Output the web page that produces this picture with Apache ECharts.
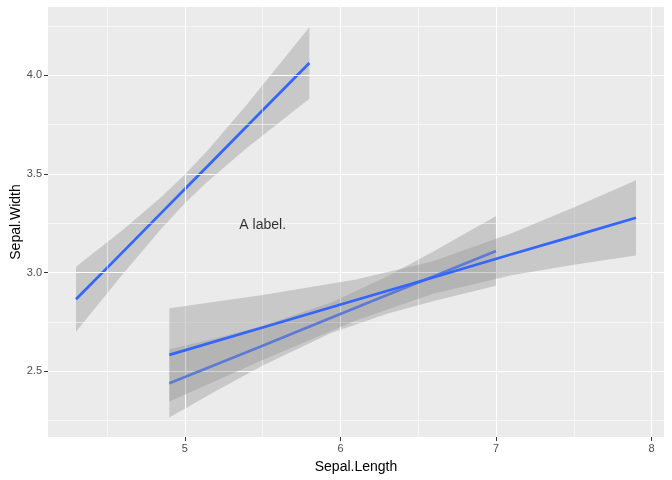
<!DOCTYPE html>
<html>
<head>
<meta charset="utf-8">
<script src="https://cdn.jsdelivr.net/npm/echarts@6/dist/echarts.min.js"></script>
<style>
  html, body { margin: 0; padding: 0; background: #fff; }
  #main { width: 672px; height: 480px; }
</style>
</head>
<body>
<div id="main"></div>
<script>
// smooth lines with confidence bands, one per species
var setosaX = [4.3, 4.6, 4.85, 5.0, 5.15, 5.4, 5.8];
var setosaFit = [2.865, 3.104, 3.304, 3.424, 3.543, 3.743, 4.062];
var setosaLo = [2.700, 2.992, 3.224, 3.351, 3.464, 3.633, 3.881];
var setosaHi = [3.030, 3.216, 3.384, 3.497, 3.622, 3.853, 4.243];

var versiX = [4.9, 5.2, 5.5, 5.94, 6.3, 6.6, 7.0];
var versiFit = [2.439, 2.534, 2.630, 2.771, 2.886, 2.982, 3.110];
var versiLo = [2.266, 2.400, 2.529, 2.694, 2.792, 2.856, 2.933];
var versiHi = [2.612, 2.668, 2.731, 2.848, 2.980, 3.108, 3.287];

var virgX = [4.9, 5.5, 6.1, 6.59, 7.1, 7.5, 7.9];
var virgFit = [2.583, 2.722, 2.861, 2.974, 3.093, 3.185, 3.278];
var virgLo = [2.347, 2.557, 2.757, 2.892, 2.987, 3.040, 3.087];
var virgHi = [2.819, 2.887, 2.965, 3.056, 3.199, 3.330, 3.468];

var xTicks = [5, 6, 7, 8];
var xMinor = [4.5, 5.5, 6.5, 7.5];
var yTicks = [2.5, 3.0, 3.5, 4.0];
var yMinor = [2.25, 2.75, 3.25, 3.75, 4.25];

var labelText = 'A label.';
var labelPos = [5.5, 3.24];

var font = 'Liberation Sans, Arial, sans-serif';

function band(xs, lo, hi, z) {
  return {
    type: 'custom',
    z: z,
    silent: true,
    data: [[xs[0], lo[0]]],
    renderItem: function (params, api) {
      var pts = [];
      for (var i = 0; i < xs.length; i++) pts.push(api.coord([xs[i], hi[i]]));
      for (var j = xs.length - 1; j >= 0; j--) pts.push(api.coord([xs[j], lo[j]]));
      return {
        type: 'polygon',
        shape: { points: pts },
        style: { fill: 'rgba(153,153,153,0.42)' }
      };
    }
  };
}

function fitLine(xs, fit, z) {
  return {
    type: 'line',
    z: z,
    silent: true,
    showSymbol: false,
    data: xs.map(function (x, i) { return [x, fit[i]]; }),
    lineStyle: { color: '#3366FF', width: 2.7 }
  };
}

var gridLines = [];
xTicks.forEach(function (v) { gridLines.push({ xAxis: v, lineStyle: { width: 1.1 } }); });
xMinor.forEach(function (v) { gridLines.push({ xAxis: v, lineStyle: { width: 0.55 } }); });
yTicks.forEach(function (v) { gridLines.push({ yAxis: v, lineStyle: { width: 1.1 } }); });
yMinor.forEach(function (v) { gridLines.push({ yAxis: v, lineStyle: { width: 0.55 } }); });

var chart = echarts.init(document.getElementById('main'));
chart.setOption({
  animation: false,
  backgroundColor: '#fff',
  textStyle: { fontFamily: font },
  grid: {
    left: 48, right: 8, top: 7, bottom: 43,
    outerBoundsMode: 'none',
    containLabel: false,
    show: true, backgroundColor: '#EBEBEB', borderWidth: 0
  },
  xAxis: {
    type: 'value',
    min: 4.12, max: 8.08,
    name: 'Sepal.Length',
    nameLocation: 'middle',
    nameGap: 23,
    nameMoveOverlap: false,
    nameTextStyle: { color: '#000', fontSize: 14, fontFamily: font },
    axisLine: { show: false },
    axisTick: { show: true, length: 4, customValues: xTicks, lineStyle: { color: '#333' } },
    axisLabel: { customValues: xTicks, margin: 6, color: '#4D4D4D', fontSize: 11, fontFamily: font },
    splitLine: { show: false }
  },
  yAxis: {
    type: 'value',
    min: 2.167, max: 4.346,
    name: 'Sepal.Width',
    nameLocation: 'middle',
    nameGap: 25,
    nameMoveOverlap: false,
    nameTextStyle: { color: '#000', fontSize: 14, fontFamily: font },
    axisLine: { show: false },
    axisTick: { show: true, length: 4, customValues: yTicks, lineStyle: { color: '#333' } },
    axisLabel: {
      customValues: yTicks, margin: 6, color: '#4D4D4D', fontSize: 11, fontFamily: font,
      formatter: function (v) { return v.toFixed(1); }
    },
    splitLine: { show: false }
  },
  series: [
    {
      type: 'line',
      z: 1,
      silent: true,
      showSymbol: false,
      data: [],
      markLine: {
        silent: true,
        symbol: ['none', 'none'],
        label: { show: false },
        lineStyle: { color: '#fff', type: 'solid' },
        data: gridLines
      }
    },
    band(setosaX, setosaLo, setosaHi, 2),
    fitLine(setosaX, setosaFit, 3),
    band(versiX, versiLo, versiHi, 4),
    fitLine(versiX, versiFit, 5),
    band(virgX, virgLo, virgHi, 6),
    fitLine(virgX, virgFit, 7),
    {
      type: 'scatter',
      z: 8,
      silent: true,
      symbolSize: 0,
      data: [labelPos],
      label: {
        show: true,
        position: 'inside',
        formatter: labelText,
        color: '#000',
        fontSize: 14,
        fontFamily: font
      }
    }
  ]
});
</script>
</body>
</html>
